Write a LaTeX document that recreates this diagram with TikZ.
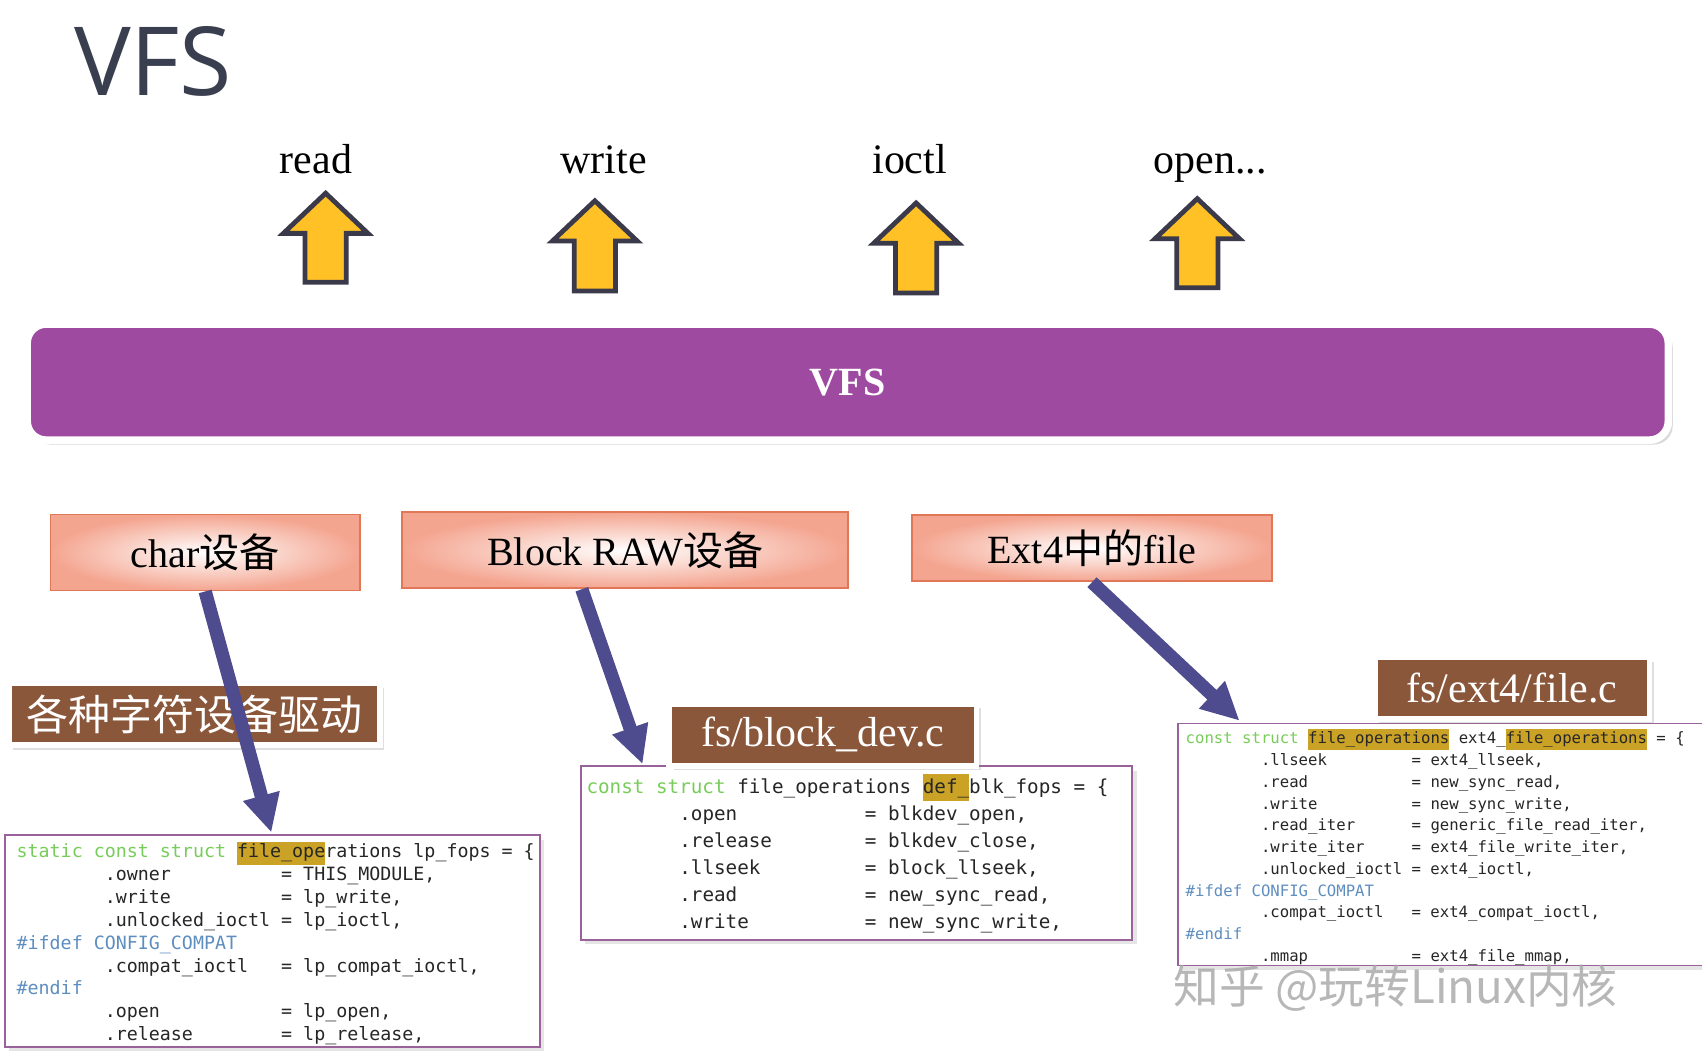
\documentclass[tikz,border=0pt]{standalone}
\usepackage{fontspec}
\setmainfont{Liberation Serif}
\setmonofont{DejaVu Sans Mono}
\newfontfamily\cjk{Noto Sans CJK SC}
\newfontfamily\titlefont{Open Sans}
\usetikzlibrary{arrows.meta,shadows,positioning}
\definecolor{vfspurple}{HTML}{9E4AA0}
\definecolor{titlegray}{HTML}{3A3F4F}
\definecolor{upyellow}{HTML}{FFC125}
\definecolor{upedge}{HTML}{3A3A4A}
\definecolor{salmon}{HTML}{F4A590}
\definecolor{salmonedge}{HTML}{E07858}
\definecolor{brownlab}{HTML}{8A573A}
\definecolor{codeedge}{HTML}{9A629A}
\definecolor{kwgreen}{HTML}{78CC5A}
\definecolor{ppblue}{HTML}{5E8EC0}
\definecolor{hlgold}{HTML}{C9A226}
\definecolor{slatearrow}{HTML}{4E4C8E}
\newcommand\sk[1]{\hspace*{#1\fontcharwd\font`0}}
\newcommand\kw[1]{\textcolor{kwgreen}{#1}}
\newcommand\pp[1]{\textcolor{ppblue}{#1}}
\newcommand\hl[1]{{\setlength{\fboxsep}{0pt}\colorbox{hlgold}{\strut #1}}}
\tikzstyle{devbox}=[draw=salmonedge,line width=1pt,inner color=white,
  outer color=salmon,font=\fontsize{21}{24}\selectfont,text=black]
\tikzstyle{pathlab}=[fill=brownlab,draw=white,line width=3pt,
  drop shadow={opacity=.25},text=white,font=\fontsize{22}{26}\selectfont]
\tikzstyle{codebox}=[draw=codeedge,line width=1pt,fill=white,
  drop shadow={opacity=.2}]
\tikzstyle{code}=[anchor=north west,inner sep=0pt,align=left,
  text=black!85]
\tikzstyle{down}=[draw=slatearrow,line width=7pt,
  -{Triangle[length=.7cm,width=.65cm]}]
\tikzstyle{call}=[anchor=base,font=\fontsize{22}{26}\selectfont]

\begin{document}
\begin{tikzpicture}[x=0.02cm,y=-0.02cm]
  \useasboundingbox[fill=white] (0,0) rectangle (1568,971);

  \node[anchor=west,text=titlegray,
    font=\titlefont\fontsize{50}{56}\selectfont] (title) at (62,57) {VFS};

  % system calls
  \foreach \cx/\tip/\bot in {300/178/260,548/185/268,844/187/270,1103/183/265}{
    \draw[fill=upyellow,draw=upedge,line width=2.5pt,line join=miter]
      (\cx,\tip) -- (\cx+39,\tip+37) -- (\cx+19,\tip+37) -- (\cx+19,\bot)
      -- (\cx-19,\bot) -- (\cx-19,\tip+37) -- (\cx-39,\tip+37) -- cycle;
  }
  \node[call] (rd) at (291,160) {read};
  \node[call] (wr) at (556,160) {write};
  \node[call] (io) at (838,160) {ioctl};
  \node[call] (op) at (1115,160) {open...};

  \node[fill=vfspurple,draw=white,line width=4pt,rounded corners=.35cm,
    drop shadow={opacity=.3},minimum width={1512*0.02cm},
    minimum height={107*0.02cm},text=white,
    font=\bfseries\fontsize{21}{24}\selectfont] (vfs) at (781,352) {VFS};

  % device kinds
  \node[devbox,minimum width={285*0.02cm},minimum height={70*0.02cm}]
    (chr) at (189,509) {char{\cjk 设备}};
  \node[devbox,minimum width={411*0.02cm},minimum height={70*0.02cm}]
    (blk) at (576,507) {Block RAW{\cjk 设备}};
  \node[devbox,minimum width={331*0.02cm},minimum height={61*0.02cm}]
    (ext) at (1006,505) {Ext4{\cjk 中的}file};

  % source boxes
  \node[codebox,minimum width={493*0.02cm},minimum height={195*0.02cm}]
    (lpbox) at (251,867) {};
  \node[codebox,minimum width={508*0.02cm},minimum height={160*0.02cm}]
    (blkbox) at (789,786) {};
  \node[codebox,minimum width={490*0.02cm},minimum height={223*0.02cm}]
    (extbox) at (1330,778) {};

  \node[code,font=\ttfamily\fontsize{9.6}{12}\selectfont] (lpcode) at (15,775) {%
    \kw{static const struct} \hl{file\_ope}rations lp\_fops = \{\\
    \sk8.owner\sk{10}= THIS\_MODULE,\\
    \sk8.write\sk{10}= lp\_write,\\
    \sk8.unlocked\_ioctl\sk1= lp\_ioctl,\\
    \pp{\#ifdef CONFIG\_COMPAT}\\
    \sk8.compat\_ioctl\sk3= lp\_compat\_ioctl,\\
    \pp{\#endif}\\
    \sk8.open\sk{11}= lp\_open,\\
    \sk8.release\sk8= lp\_release,};
  \node[code,font=\ttfamily\fontsize{10.1}{14.2}\selectfont] (blkcode) at (540,713) {%
    \kw{const struct} file\_operations \hl{def\_}blk\_fops = \{\\
    \sk8.open\sk{11}= blkdev\_open,\\
    \sk8.release\sk8= blkdev\_close,\\
    \sk8.llseek\sk9= block\_llseek,\\
    \sk8.read\sk{11}= new\_sync\_read,\\
    \sk8.write\sk{10}= new\_sync\_write,};
  \node[code,font=\ttfamily\fontsize{8.2}{11.4}\selectfont] (extcode) at (1092,671) {%
    \kw{const struct} \hl{file\_operations} ext4\_\hl{file\_operations} = \{\\
    \sk8.llseek\sk9= ext4\_llseek,\\
    \sk8.read\sk{11}= new\_sync\_read,\\
    \sk8.write\sk{10}= new\_sync\_write,\\
    \sk8.read\_iter\sk6= generic\_file\_read\_iter,\\
    \sk8.write\_iter\sk5= ext4\_file\_write\_iter,\\
    \sk8.unlocked\_ioctl\sk1= ext4\_ioctl,\\
    \pp{\#ifdef CONFIG\_COMPAT}\\
    \sk8.compat\_ioctl\sk3= ext4\_compat\_ioctl,\\
    \pp{\#endif}\\
    \sk8.mmap\sk{11}= ext4\_file\_mmap,};

  % source file labels
  \node[pathlab,minimum width={342*0.02cm},minimum height={57*0.02cm}]
    (drv) at (179,658) {\cjk 各种字符设备驱动};
  \node[pathlab,minimum width={283*0.02cm},minimum height={57*0.02cm}]
    (bdev) at (758,677) {fs/block\_dev.c};
  \node[pathlab,minimum width={253*0.02cm},minimum height={57*0.02cm}]
    (efile) at (1393,634) {fs/ext4/file.c};

  \coordinate (lptip) at (250,767);
  \coordinate (blktip) at (592,704);
  \coordinate (exttip) at (1142,664);
  \draw[down] (chr.south) -- (lptip);
  \draw[down] ([xshift=-40*0.02cm]blk.south) -- (blktip);
  \draw[down] (ext.south) -- (exttip);

  \node[anchor=west,text=gray!70,opacity=.8,
    font=\cjk\fontsize{24}{28}\selectfont] (mark) at (1075,910) {知乎 @玩转Linux内核};
\end{tikzpicture}
\end{document}
